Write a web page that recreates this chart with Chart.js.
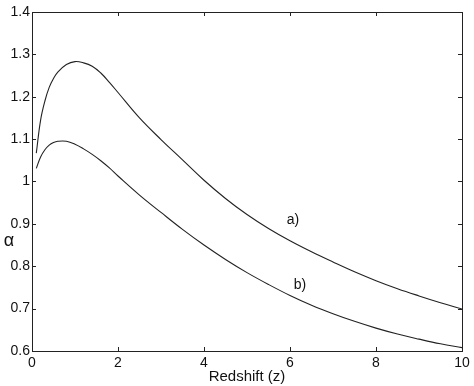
<!DOCTYPE html>
<html>
<head>
<meta charset="utf-8">
<script src="https://cdn.jsdelivr.net/npm/chart.js@4/dist/chart.umd.min.js"></script>
<style>
  html, body { margin: 0; padding: 0; background: #fff; }
  #wrap { width: 474px; height: 386px; }
</style>
</head>
<body>
<div id="wrap"><canvas id="alphaChart"></canvas></div>
<script>
// redshift values and alpha for both curves
const redshift = [0.1, 0.2, 0.3, 0.4, 0.5, 0.6, 0.8, 1.0, 1.2, 1.4, 1.6, 1.8, 2.0, 2.5, 3.0, 3.5, 4.0, 4.5, 5.0, 5.5, 6.0, 6.5, 7.0, 7.5, 8.0, 8.5, 9.0, 9.5, 10];
const alphaA = [1.067, 1.145, 1.190, 1.222, 1.243, 1.258, 1.276, 1.283, 1.280, 1.272, 1.256, 1.234, 1.210, 1.150, 1.099, 1.051, 1.003, 0.960, 0.922, 0.889, 0.860, 0.834, 0.810, 0.787, 0.766, 0.747, 0.730, 0.714, 0.699];
const alphaB = [1.031, 1.058, 1.075, 1.086, 1.092, 1.095, 1.095, 1.088, 1.077, 1.064, 1.049, 1.032, 1.013, 0.968, 0.927, 0.887, 0.850, 0.816, 0.785, 0.757, 0.731, 0.708, 0.688, 0.670, 0.654, 0.640, 0.628, 0.617, 0.608];
const curveLabels = ["a)", "b)"];
const labelX = [6.07, 6.23];
const labelY = [0.909, 0.756];
const xTicks = [0, 2, 4, 6, 8, 10];
const yTicks = [0.6, 0.7, 0.8, 0.9, 1.0, 1.1, 1.2, 1.3, 1.4];

const ink = "#222";
const fontFamily = "'Liberation Sans', Arial, sans-serif";

function toPoints(xs, ys) {
    return xs.map((x, i) => ({ x: x, y: ys[i] }));
}

// box around the plot, inward ticks on all four sides, curve labels and the alpha label
const boxPlugin = {
    id: "box",
    afterDraw(chart) {
        let ctx = chart.ctx;
        let a = chart.chartArea;
        let xs = chart.scales.x;
        let ys = chart.scales.y;
        ctx.save();
        ctx.strokeStyle = ink;
        ctx.lineWidth = 1;
        ctx.strokeRect(a.left + 0.5, a.top + 0.5, a.right - a.left, a.bottom - a.top);
        ctx.beginPath();
        xTicks.forEach(v => {
            let px = Math.round(xs.getPixelForValue(v)) + 0.5;
            ctx.moveTo(px, a.bottom); ctx.lineTo(px, a.bottom - 4);
            ctx.moveTo(px, a.top); ctx.lineTo(px, a.top + 4);
        });
        yTicks.forEach(v => {
            let py = Math.round(ys.getPixelForValue(v)) + 0.5;
            ctx.moveTo(a.left, py); ctx.lineTo(a.left + 4, py);
            ctx.moveTo(a.right, py); ctx.lineTo(a.right - 4, py);
        });
        ctx.stroke();

        ctx.fillStyle = "#111";
        ctx.font = "14px " + fontFamily;
        ctx.textAlign = "center";
        ctx.textBaseline = "middle";
        curveLabels.forEach((t, i) => {
            ctx.fillText(t, xs.getPixelForValue(labelX[i]), ys.getPixelForValue(labelY[i]));
        });

        ctx.font = "18px " + fontFamily;
        ctx.fillText("\u03b1", 9, ys.getPixelForValue(0.86));
        ctx.restore();
    }
};

new Chart(document.getElementById("alphaChart"), {
    type: "line",
    data: {
        datasets: [
            {
                label: "a",
                data: toPoints(redshift, alphaA),
                borderColor: ink,
                borderWidth: 1.1,
                pointRadius: 0,
                tension: 0.4,
                fill: false
            },
            {
                label: "b",
                data: toPoints(redshift, alphaB),
                borderColor: ink,
                borderWidth: 1.1,
                pointRadius: 0,
                tension: 0.4,
                fill: false
            }
        ]
    },
    options: {
        responsive: true,
        maintainAspectRatio: false,
        animation: false,
        layout: { padding: { top: 12, right: 12, left: 0, bottom: 0 } },
        plugins: {
            legend: { display: false },
            tooltip: { enabled: false }
        },
        scales: {
            x: {
                type: "linear",
                min: 0,
                max: 10,
                afterBuildTicks: s => { s.ticks = xTicks.map(v => ({ value: v })); },
                afterFit: s => { s.height = 35; },
                grid: { display: false, drawTicks: false },
                border: { display: false },
                ticks: {
                    color: "#111",
                    padding: 4,
                    maxRotation: 0,
                    font: { family: fontFamily, size: 14 }
                },
                title: {
                    display: true,
                    text: "Redshift (z)",
                    color: "#111",
                    padding: { top: -2, bottom: 0 },
                    font: { family: fontFamily, size: 15 }
                }
            },
            y: {
                min: 0.6,
                max: 1.4,
                afterBuildTicks: s => { s.ticks = yTicks.map(v => ({ value: v })); },
                afterFit: s => { s.width = 32; },
                grid: { display: false, drawTicks: false },
                border: { display: false },
                ticks: {
                    color: "#111",
                    padding: 2,
                    font: { family: fontFamily, size: 14 },
                    callback: v => String(Number(v.toFixed(1)))
                }
            }
        }
    },
    plugins: [boxPlugin]
});
</script>
</body>
</html>
